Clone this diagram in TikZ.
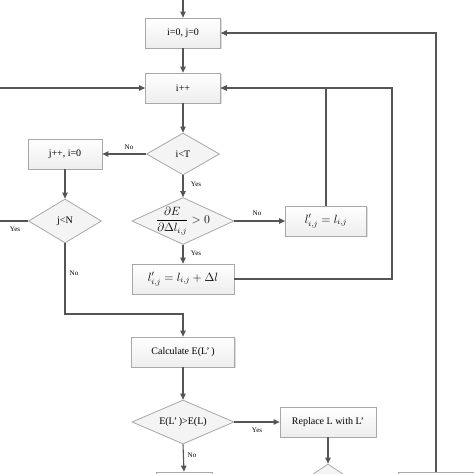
\documentclass[tikz,border=0pt]{standalone}
\usepackage{fontspec}
\usepackage{amsmath}
\setmainfont{Liberation Serif}
\usetikzlibrary{arrows.meta,shapes.geometric,shadows}
\definecolor{linec}{HTML}{555555}
\definecolor{bordc}{HTML}{A8A8A8}
\begin{document}
\begin{tikzpicture}[x=1pt,y=-1pt,
  box/.style={draw=bordc, line width=0.8pt, top color=white, bottom color=gray!14,
    drop shadow={shadow xshift=1.2pt, shadow yshift=-1.2pt, opacity=0.25},
    minimum height=30pt, inner sep=0pt, font=\fontsize{10}{12}\selectfont},
  mbox/.style={box, font=\fontsize{11.5}{13}\selectfont},
  dia/.style={diamond, draw=bordc, line width=0.8pt, fill=gray!9, inner sep=0pt},
  dtext/.style={font=\fontsize{10}{12}\selectfont},
  mtext/.style={font=\fontsize{11.5}{13}\selectfont},
  arr/.style={draw=linec, line width=1.1pt, -{Triangle[length=6pt,width=5.5pt]}},
  lab/.style={font=\fontsize{7}{8}\selectfont, inner sep=0pt}]
\useasboundingbox (0,0) rectangle (474,474);
\clip (0,0) rectangle (474,474);
\fill[white] (0,0) rectangle (474,474);

% nodes
\node[box, minimum width=75pt] (b0) at (183,33) {i=0, j=0};
\node[box, minimum width=75pt] (b1) at (183,88) {i++};
\node[dia, minimum width=73pt, minimum height=42pt,
  label={[dtext]center:i{<}T}] (d1) at (183,154) {};
\node[box, minimum width=74pt] (b2) at (65,154) {j++, i=0};
\node[dia, minimum width=73pt, minimum height=44pt,
  label={[dtext]center:j{<}N}] (d3) at (65,221) {};
\node[dia, minimum width=102pt, minimum height=47pt,
  label={[mtext]center:$\dfrac{\partial E}{\partial \Delta l_{i,j}} > 0$}] (d2) at (183,221) {};
\node[mbox, minimum width=81pt] (b3) at (326,221) {$l'_{i,j} = l_{i,j}$};
\node[mbox, minimum width=102pt] (b4) at (183,279) {$l'_{i,j} = l_{i,j} + \Delta l$};
\node[box, minimum width=103pt] (b5) at (183,352) {Calculate E(L’\,)};
\node[dia, minimum width=102pt, minimum height=44pt,
  label={[dtext]center:E(L’\,)>E(L)}] (d4) at (183,422) {};
\node[box, minimum width=96pt] (b6) at (328,422) {Replace L with L’};
\node[dia, minimum width=66pt, minimum height=44pt] (d5) at (328,486) {};
\node[box, minimum width=56pt] (b7) at (184,487) {};
\node[box, minimum width=76pt] (b8) at (436,487) {};

\coordinate (top) at (183,0);
\coordinate (lt) at (-10,221);
\coordinate (lb) at (-10,88);
\coordinate (jn) at (183,314);
\coordinate (r1) at (392,88);

% connectors
\draw[arr] (top) -- (b0);
\draw[arr] (b0) -- (b1);
\draw[arr] (b1) -- (d1);
\draw[arr] (d1.west) -- (b2.east);
\draw[arr] (d1.south) -- (d2.north);
\draw[arr] (b2.south) -- (d3.north);
\draw[arr] (d3.west) -- (lt) -- (lb) -- (b1.west);
\draw[arr] (d3.south) |- (jn) -- (b5.north);
\draw[arr] (d2.east) -- (b3.west);
\draw[arr] (b3.north) |- (b1.east);
\draw[arr] (d2.south) -- (b4.north);
\draw[arr] (b4.east) -| (r1) -- (b1.east);
\draw[arr] (b5) -- (d4);
\draw[arr] (d4.east) -- (b6.west);
\draw[arr] (b6.south) -- (d5.north);
\draw[arr] (d4.south) -- (b7.north);
\draw[arr] (b8.north) |- (b0.east);

% labels
\node[lab] (l1) at (129,147) {No};
\node[lab] (l2) at (196,184) {Yes};
\node[lab] (l3) at (15,229) {Yes};
\node[lab] (l4) at (74,273) {No};
\node[lab] (l5) at (257,213) {No};
\node[lab] (l6) at (196,253) {Yes};
\node[lab] (l7) at (257,430) {Yes};
\node[lab] (l8) at (192,455) {No};
\end{tikzpicture}
\end{document}
